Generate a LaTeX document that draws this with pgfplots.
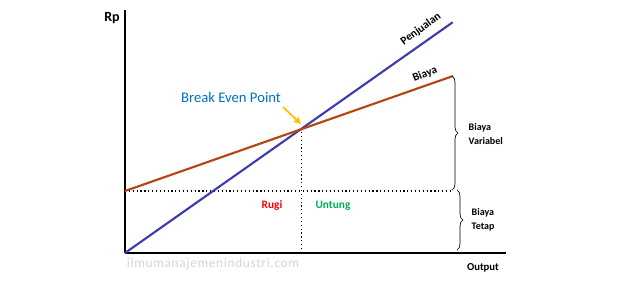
\documentclass[border=0pt]{standalone}
\usepackage{pgfplots}
\pgfplotsset{compat=1.18}
\usepackage{fontspec}
\setmainfont{Carlito}
\usetikzlibrary{decorations.pathreplacing,arrows.meta}
\definecolor{bluel}{RGB}{60,60,175}
\definecolor{brownl}{RGB}{180,70,15}
\definecolor{bepblue}{RGB}{0,112,192}
\definecolor{gold}{RGB}{255,192,0}
\definecolor{greenu}{RGB}{0,176,80}
\begin{document}
\begin{tikzpicture}
\begin{axis}[
  scale only axis, width=285.75pt, height=182.25pt,
  xmin=0, xmax=381, ymin=0, ymax=243,
  axis lines=left, axis line style={-, line width=2.2pt, black},
  xtick=\empty, ytick=\empty, clip=false]
\path (axis cs:-125,-27) rectangle (axis cs:515,253);
% dotted lines
\addplot[black, line width=0.9pt, dotted] coordinates {(0,62) (328,62)};
\addplot[black, line width=0.9pt, dotted] coordinates {(176.7,0) (176.7,124.3)};
% lines
\addplot[bluel, line width=1.6pt] coordinates {(0,0) (327.7,230.7)};
\addplot[brownl, line width=1.6pt] coordinates {(0,62) (328,177)};
% arrow
\draw[gold, line width=1.3pt, -{Triangle[length=5pt,width=5pt]}] (axis cs:158,146) -- (axis cs:176,129);
% braces
\draw[black, line width=0.5pt, decorate, decoration={brace, amplitude=4.5pt}] (axis cs:327,177) -- (axis cs:327,63);
\draw[black, line width=0.5pt, decorate, decoration={brace, amplitude=4.5pt}] (axis cs:332,63) -- (axis cs:332,3);
% labels
\node[font=\bfseries\fontsize{10.5}{12}\selectfont] at (axis cs:-13,235) {Rp};
\node[font=\bfseries\fontsize{8}{9}\selectfont] at (axis cs:358,-15) {Output};
\node[font=\fontsize{11}{13}\selectfont, text=bepblue] at (axis cs:106,156) {Break Even Point};
\node[font=\bfseries\fontsize{8.5}{10}\selectfont, rotate=36, inner sep=0pt] at (axis cs:296,224) {Penjualan};
\node[font=\bfseries\fontsize{8.5}{10}\selectfont, rotate=21, inner sep=0pt] at (axis cs:300,179) {Biaya};
\node[font=\bfseries\fontsize{8.5}{10}\selectfont, text=red] at (axis cs:147,48) {Rugi};
\node[font=\bfseries\fontsize{8.5}{10}\selectfont, text=greenu] at (axis cs:208,47) {Untung};
\node[font=\bfseries\fontsize{7.5}{10.5}\selectfont, anchor=west, align=left] at (axis cs:339,119) {Biaya\\Variabel};
\node[font=\bfseries\fontsize{7.5}{10.5}\selectfont, anchor=west, align=left] at (axis cs:342,33.5) {Biaya\\Tetap};
\node[font=\fontsize{10}{11}\selectfont, text=black!17] at (axis cs:88,-11) {\addfontfeatures{LetterSpace=5}ilmumanajemenindustri.com};
\end{axis}
\end{tikzpicture}
\end{document}
